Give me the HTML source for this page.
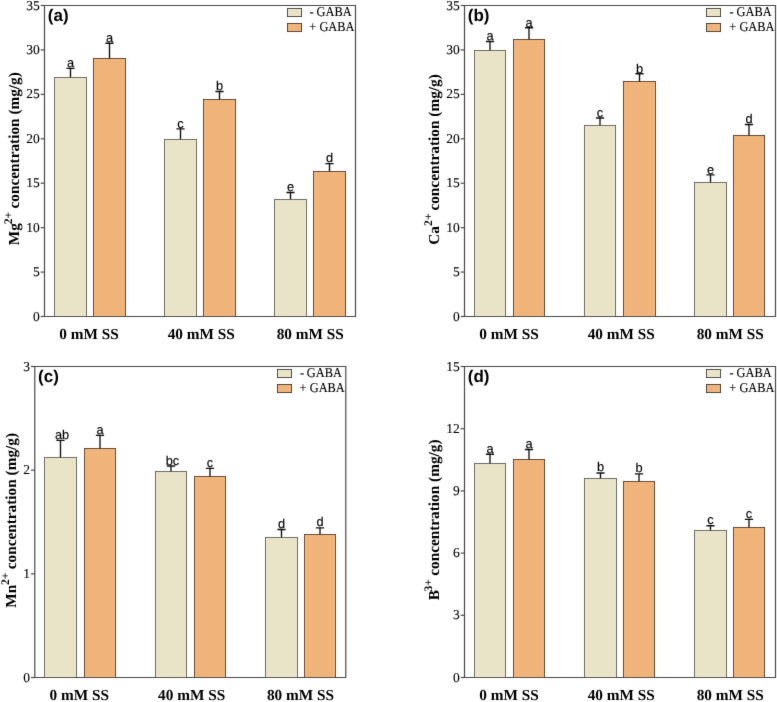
<!DOCTYPE html>
<html><head><meta charset="utf-8"><style>
html,body{margin:0;padding:0;background:#fff;}
svg{display:block;will-change:transform;}
text{text-rendering:geometricPrecision;}
.tk{font-family:"Liberation Serif",serif;font-size:13.5px;fill:#000;stroke:#000;stroke-width:0.1px;}
.xl{font-family:"Liberation Serif",serif;font-size:15.3px;font-weight:bold;fill:#000;}
.yl{font-family:"Liberation Serif",serif;font-size:15.3px;font-weight:bold;fill:#000;}
.pl{font-family:"Liberation Sans",sans-serif;font-size:17px;font-weight:bold;fill:#000;}
.lt{font-family:"Liberation Sans",sans-serif;font-size:12.8px;fill:#000;stroke:#000;stroke-width:0.15px;}
.lg{font-family:"Liberation Serif",serif;font-size:12.4px;fill:#000;stroke:#000;stroke-width:0.1px;}
</style></head><body>
<svg width="777" height="702" viewBox="0 0 777 702">
<defs><filter id="sf" x="0" y="0" width="777" height="702" filterUnits="userSpaceOnUse"><feConvolveMatrix order="3" kernelMatrix="0.0049 0.0700 0.0049 0.0700 0.7004 0.0700 0.0049 0.0700 0.0049" divisor="1" edgeMode="duplicate" preserveAlpha="false"/></filter></defs>
<rect width="777" height="702" fill="#fff"/>
<g filter="url(#sf)">
<g><rect x="54.50" y="77.50" width="32.00" height="239.00" fill="#E9E4C8" stroke="#66665f" stroke-width="1"/>
<path d="M70.50 77.50V68.40M66.40 68.40H74.60" stroke="#111" stroke-width="1.35" fill="none"/>
<text class="lt" x="70.50" y="67.20" text-anchor="middle">a</text>
<rect x="93.50" y="58.50" width="32.00" height="258.00" fill="#F0B47A" stroke="#5a4330" stroke-width="1"/>
<path d="M109.50 58.50V43.20M105.40 43.20H113.60" stroke="#111" stroke-width="1.35" fill="none"/>
<text class="lt" x="109.50" y="42.00" text-anchor="middle">a</text>
<rect x="164.50" y="139.50" width="32.00" height="177.00" fill="#E9E4C8" stroke="#66665f" stroke-width="1"/>
<path d="M180.50 139.50V128.90M176.40 128.90H184.60" stroke="#111" stroke-width="1.35" fill="none"/>
<text class="lt" x="180.50" y="127.70" text-anchor="middle">c</text>
<rect x="203.50" y="99.50" width="32.00" height="217.00" fill="#F0B47A" stroke="#5a4330" stroke-width="1"/>
<path d="M219.50 99.50V91.50M215.40 91.50H223.60" stroke="#111" stroke-width="1.35" fill="none"/>
<text class="lt" x="219.50" y="90.30" text-anchor="middle">b</text>
<rect x="274.50" y="199.50" width="32.00" height="117.00" fill="#E9E4C8" stroke="#66665f" stroke-width="1"/>
<path d="M290.50 199.50V192.50M286.40 192.50H294.60" stroke="#111" stroke-width="1.35" fill="none"/>
<text class="lt" x="290.50" y="191.30" text-anchor="middle">e</text>
<rect x="313.50" y="171.50" width="32.00" height="145.00" fill="#F0B47A" stroke="#5a4330" stroke-width="1"/>
<path d="M329.50 171.50V163.60M325.40 163.60H333.60" stroke="#111" stroke-width="1.35" fill="none"/>
<text class="lt" x="329.50" y="162.40" text-anchor="middle">d</text>
<path d="M44.50 5.50V316.50H355.50V5.50Z" stroke="#4a4a4a" stroke-width="1.2" fill="none"/>
<path d="M40.70 316.50H44.50" stroke="#4a4a4a" stroke-width="1.2"/>
<text class="tk" transform="translate(39.70,320.60) scale(1,1.0)" text-anchor="end">0</text>
<path d="M40.70 272.07H44.50" stroke="#4a4a4a" stroke-width="1.2"/>
<text class="tk" transform="translate(39.70,276.17) scale(1,1.0)" text-anchor="end">5</text>
<path d="M40.70 227.64H44.50" stroke="#4a4a4a" stroke-width="1.2"/>
<text class="tk" transform="translate(39.70,231.74) scale(1,1.0)" text-anchor="end">10</text>
<path d="M40.70 183.21H44.50" stroke="#4a4a4a" stroke-width="1.2"/>
<text class="tk" transform="translate(39.70,187.31) scale(1,1.0)" text-anchor="end">15</text>
<path d="M40.70 138.79H44.50" stroke="#4a4a4a" stroke-width="1.2"/>
<text class="tk" transform="translate(39.70,142.89) scale(1,1.0)" text-anchor="end">20</text>
<path d="M40.70 94.36H44.50" stroke="#4a4a4a" stroke-width="1.2"/>
<text class="tk" transform="translate(39.70,98.46) scale(1,1.0)" text-anchor="end">25</text>
<path d="M40.70 49.93H44.50" stroke="#4a4a4a" stroke-width="1.2"/>
<text class="tk" transform="translate(39.70,54.03) scale(1,1.0)" text-anchor="end">30</text>
<path d="M40.70 5.50H44.50" stroke="#4a4a4a" stroke-width="1.2"/>
<text class="tk" transform="translate(39.70,9.60) scale(1,1.0)" text-anchor="end">35</text>
<text class="xl" x="89.00" y="339.00" text-anchor="middle">0 mM SS</text>
<text class="xl" x="201.30" y="339.00" text-anchor="middle">40 mM SS</text>
<text class="xl" x="310.20" y="339.00" text-anchor="middle">80 mM SS</text>
<text class="pl" x="47.80" y="21.30">(a)</text>
<rect x="287.50" y="8.50" width="14" height="8" fill="#E9E4C8" stroke="#3c3c3c" stroke-width="1"/>
<rect x="287.50" y="23.50" width="14" height="8" fill="#F0B47A" stroke="#3c3c3c" stroke-width="1"/>
<text class="lg" transform="translate(309.60,16.20) scale(1,1.09)">-</text>
<text class="lg" transform="translate(316.50,16.20) scale(1,1.09)">GABA</text>
<text class="lg" transform="translate(309.30,31.40) scale(1,1.09)">+</text>
<text class="lg" transform="translate(319.40,31.40) scale(1,1.09)">GABA</text>
<text class="yl" transform="translate(19.00,0) rotate(-90)" x="-245.30" y="0">Mg</text>
<text class="yl" transform="translate(19.00,0) rotate(-90)" x="-224.30" y="-6.6" style="font-size:11.6px">2+</text>
<text class="yl" transform="translate(19.00,0) rotate(-90)" x="-208.50" y="0">concentration (mg/g)</text></g>
<g><rect x="474.50" y="50.50" width="31.00" height="266.00" fill="#E9E4C8" stroke="#66665f" stroke-width="1"/>
<path d="M490.00 50.50V41.50M485.90 41.50H494.10" stroke="#111" stroke-width="1.35" fill="none"/>
<text class="lt" x="490.00" y="40.30" text-anchor="middle">a</text>
<rect x="513.50" y="39.50" width="31.00" height="277.00" fill="#F0B47A" stroke="#5a4330" stroke-width="1"/>
<path d="M529.00 39.50V27.70M524.90 27.70H533.10" stroke="#111" stroke-width="1.35" fill="none"/>
<text class="lt" x="529.00" y="26.50" text-anchor="middle">a</text>
<rect x="584.50" y="125.50" width="31.00" height="191.00" fill="#E9E4C8" stroke="#66665f" stroke-width="1"/>
<path d="M600.00 125.50V118.00M595.90 118.00H604.10" stroke="#111" stroke-width="1.35" fill="none"/>
<text class="lt" x="600.00" y="116.80" text-anchor="middle">c</text>
<rect x="623.50" y="81.50" width="32.00" height="235.00" fill="#F0B47A" stroke="#5a4330" stroke-width="1"/>
<path d="M639.50 81.50V73.70M635.40 73.70H643.60" stroke="#111" stroke-width="1.35" fill="none"/>
<text class="lt" x="639.50" y="72.50" text-anchor="middle">b</text>
<rect x="694.50" y="182.50" width="32.00" height="134.00" fill="#E9E4C8" stroke="#66665f" stroke-width="1"/>
<path d="M710.50 182.50V174.90M706.40 174.90H714.60" stroke="#111" stroke-width="1.35" fill="none"/>
<text class="lt" x="710.50" y="173.70" text-anchor="middle">e</text>
<rect x="733.50" y="135.50" width="31.00" height="181.00" fill="#F0B47A" stroke="#5a4330" stroke-width="1"/>
<path d="M749.00 135.50V124.50M744.90 124.50H753.10" stroke="#111" stroke-width="1.35" fill="none"/>
<text class="lt" x="749.00" y="123.30" text-anchor="middle">d</text>
<path d="M464.50 5.50V316.50H775.50V5.50Z" stroke="#4a4a4a" stroke-width="1.2" fill="none"/>
<path d="M460.70 316.50H464.50" stroke="#4a4a4a" stroke-width="1.2"/>
<text class="tk" transform="translate(459.70,320.60) scale(1,1.0)" text-anchor="end">0</text>
<path d="M460.70 272.07H464.50" stroke="#4a4a4a" stroke-width="1.2"/>
<text class="tk" transform="translate(459.70,276.17) scale(1,1.0)" text-anchor="end">5</text>
<path d="M460.70 227.64H464.50" stroke="#4a4a4a" stroke-width="1.2"/>
<text class="tk" transform="translate(459.70,231.74) scale(1,1.0)" text-anchor="end">10</text>
<path d="M460.70 183.21H464.50" stroke="#4a4a4a" stroke-width="1.2"/>
<text class="tk" transform="translate(459.70,187.31) scale(1,1.0)" text-anchor="end">15</text>
<path d="M460.70 138.79H464.50" stroke="#4a4a4a" stroke-width="1.2"/>
<text class="tk" transform="translate(459.70,142.89) scale(1,1.0)" text-anchor="end">20</text>
<path d="M460.70 94.36H464.50" stroke="#4a4a4a" stroke-width="1.2"/>
<text class="tk" transform="translate(459.70,98.46) scale(1,1.0)" text-anchor="end">25</text>
<path d="M460.70 49.93H464.50" stroke="#4a4a4a" stroke-width="1.2"/>
<text class="tk" transform="translate(459.70,54.03) scale(1,1.0)" text-anchor="end">30</text>
<path d="M460.70 5.50H464.50" stroke="#4a4a4a" stroke-width="1.2"/>
<text class="tk" transform="translate(459.70,9.60) scale(1,1.0)" text-anchor="end">35</text>
<text class="xl" x="509.00" y="339.00" text-anchor="middle">0 mM SS</text>
<text class="xl" x="621.30" y="339.00" text-anchor="middle">40 mM SS</text>
<text class="xl" x="730.20" y="339.00" text-anchor="middle">80 mM SS</text>
<text class="pl" x="467.80" y="21.30">(b)</text>
<rect x="706.50" y="8.50" width="14" height="8" fill="#E9E4C8" stroke="#3c3c3c" stroke-width="1"/>
<rect x="706.50" y="23.50" width="14" height="8" fill="#F0B47A" stroke="#3c3c3c" stroke-width="1"/>
<text class="lg" transform="translate(729.60,16.20) scale(1,1.09)">-</text>
<text class="lg" transform="translate(736.50,16.20) scale(1,1.09)">GABA</text>
<text class="lg" transform="translate(729.30,31.40) scale(1,1.09)">+</text>
<text class="lg" transform="translate(739.40,31.40) scale(1,1.09)">GABA</text>
<text class="yl" transform="translate(439.00,0) rotate(-90)" x="-244.80" y="0">Ca</text>
<text class="yl" transform="translate(439.00,0) rotate(-90)" x="-225.90" y="-6.6" style="font-size:11.6px">2+</text>
<text class="yl" transform="translate(439.00,0) rotate(-90)" x="-210.60" y="0">concentration (mg/g)</text></g>
<g><rect x="44.50" y="457.50" width="32.00" height="220.00" fill="#E9E4C8" stroke="#66665f" stroke-width="1"/>
<path d="M60.50 457.50V440.30M56.40 440.30H64.60" stroke="#111" stroke-width="1.35" fill="none"/>
<text class="lt" x="62.00" y="439.10" text-anchor="middle">ab</text>
<rect x="84.50" y="448.50" width="31.00" height="229.00" fill="#F0B47A" stroke="#5a4330" stroke-width="1"/>
<path d="M100.00 448.50V435.30M95.90 435.30H104.10" stroke="#111" stroke-width="1.35" fill="none"/>
<text class="lt" x="100.00" y="434.10" text-anchor="middle">a</text>
<rect x="155.50" y="471.50" width="31.00" height="206.00" fill="#E9E4C8" stroke="#66665f" stroke-width="1"/>
<path d="M171.00 471.50V466.00M166.90 466.00H175.10" stroke="#111" stroke-width="1.35" fill="none"/>
<text class="lt" x="172.50" y="464.80" text-anchor="middle">bc</text>
<rect x="194.50" y="476.50" width="31.00" height="201.00" fill="#F0B47A" stroke="#5a4330" stroke-width="1"/>
<path d="M210.00 476.50V468.40M205.90 468.40H214.10" stroke="#111" stroke-width="1.35" fill="none"/>
<text class="lt" x="210.00" y="467.20" text-anchor="middle">c</text>
<rect x="265.50" y="537.50" width="32.00" height="140.00" fill="#E9E4C8" stroke="#66665f" stroke-width="1"/>
<path d="M281.50 537.50V529.50M277.40 529.50H285.60" stroke="#111" stroke-width="1.35" fill="none"/>
<text class="lt" x="281.50" y="528.30" text-anchor="middle">d</text>
<rect x="304.50" y="534.50" width="31.00" height="143.00" fill="#F0B47A" stroke="#5a4330" stroke-width="1"/>
<path d="M320.00 534.50V527.80M315.90 527.80H324.10" stroke="#111" stroke-width="1.35" fill="none"/>
<text class="lt" x="320.00" y="525.60" text-anchor="middle">d</text>
<path d="M34.80 366.50V677.50H345.80V366.50Z" stroke="#4a4a4a" stroke-width="1.2" fill="none"/>
<path d="M31.00 677.50H34.80" stroke="#4a4a4a" stroke-width="1.2"/>
<text class="tk" transform="translate(30.00,681.60) scale(1,1.0)" text-anchor="end">0</text>
<path d="M31.00 573.83H34.80" stroke="#4a4a4a" stroke-width="1.2"/>
<text class="tk" transform="translate(30.00,577.93) scale(1,1.0)" text-anchor="end">1</text>
<path d="M31.00 470.17H34.80" stroke="#4a4a4a" stroke-width="1.2"/>
<text class="tk" transform="translate(30.00,474.27) scale(1,1.0)" text-anchor="end">2</text>
<path d="M31.00 366.50H34.80" stroke="#4a4a4a" stroke-width="1.2"/>
<text class="tk" transform="translate(30.00,370.60) scale(1,1.0)" text-anchor="end">3</text>
<text class="xl" x="79.30" y="700.00" text-anchor="middle">0 mM SS</text>
<text class="xl" x="191.60" y="700.00" text-anchor="middle">40 mM SS</text>
<text class="xl" x="300.50" y="700.00" text-anchor="middle">80 mM SS</text>
<text class="pl" x="38.10" y="382.30">(c)</text>
<rect x="277.50" y="369.50" width="14" height="8" fill="#E9E4C8" stroke="#3c3c3c" stroke-width="1"/>
<rect x="277.50" y="384.50" width="14" height="8" fill="#F0B47A" stroke="#3c3c3c" stroke-width="1"/>
<text class="lg" transform="translate(299.90,377.20) scale(1,1.09)">-</text>
<text class="lg" transform="translate(306.80,377.20) scale(1,1.09)">GABA</text>
<text class="lg" transform="translate(299.60,392.40) scale(1,1.09)">+</text>
<text class="lg" transform="translate(309.70,392.40) scale(1,1.09)">GABA</text>
<text class="yl" transform="translate(16.00,0) rotate(-90)" x="-607.80" y="0">Mn</text>
<text class="yl" transform="translate(16.00,0) rotate(-90)" x="-585.10" y="-6.6" style="font-size:11.6px">2+</text>
<text class="yl" transform="translate(16.00,0) rotate(-90)" x="-569.30" y="0">concentration (mg/g)</text></g>
<g><rect x="474.50" y="463.50" width="31.00" height="214.00" fill="#E9E4C8" stroke="#66665f" stroke-width="1"/>
<path d="M490.00 463.50V454.20M485.90 454.20H494.10" stroke="#111" stroke-width="1.35" fill="none"/>
<text class="lt" x="490.00" y="453.00" text-anchor="middle">a</text>
<rect x="513.50" y="459.50" width="31.00" height="218.00" fill="#F0B47A" stroke="#5a4330" stroke-width="1"/>
<path d="M529.00 459.50V449.50M524.90 449.50H533.10" stroke="#111" stroke-width="1.35" fill="none"/>
<text class="lt" x="529.00" y="448.30" text-anchor="middle">a</text>
<rect x="584.50" y="478.50" width="32.00" height="199.00" fill="#E9E4C8" stroke="#66665f" stroke-width="1"/>
<path d="M600.50 478.50V473.00M596.40 473.00H604.60" stroke="#111" stroke-width="1.35" fill="none"/>
<text class="lt" x="600.50" y="470.80" text-anchor="middle">b</text>
<rect x="623.50" y="481.50" width="31.00" height="196.00" fill="#F0B47A" stroke="#5a4330" stroke-width="1"/>
<path d="M639.00 481.50V473.90M634.90 473.90H643.10" stroke="#111" stroke-width="1.35" fill="none"/>
<text class="lt" x="639.00" y="471.70" text-anchor="middle">b</text>
<rect x="694.50" y="530.50" width="32.00" height="147.00" fill="#E9E4C8" stroke="#66665f" stroke-width="1"/>
<path d="M710.50 530.50V525.70M706.40 525.70H714.60" stroke="#111" stroke-width="1.35" fill="none"/>
<text class="lt" x="710.50" y="523.50" text-anchor="middle">c</text>
<rect x="733.50" y="527.50" width="31.00" height="150.00" fill="#F0B47A" stroke="#5a4330" stroke-width="1"/>
<path d="M749.00 527.50V519.40M744.90 519.40H753.10" stroke="#111" stroke-width="1.35" fill="none"/>
<text class="lt" x="749.00" y="518.20" text-anchor="middle">c</text>
<path d="M464.50 366.50V677.50H775.50V366.50Z" stroke="#4a4a4a" stroke-width="1.2" fill="none"/>
<path d="M460.70 677.50H464.50" stroke="#4a4a4a" stroke-width="1.2"/>
<text class="tk" transform="translate(459.70,681.60) scale(1,1.0)" text-anchor="end">0</text>
<path d="M460.70 615.30H464.50" stroke="#4a4a4a" stroke-width="1.2"/>
<text class="tk" transform="translate(459.70,619.40) scale(1,1.0)" text-anchor="end">3</text>
<path d="M460.70 553.10H464.50" stroke="#4a4a4a" stroke-width="1.2"/>
<text class="tk" transform="translate(459.70,557.20) scale(1,1.0)" text-anchor="end">6</text>
<path d="M460.70 490.90H464.50" stroke="#4a4a4a" stroke-width="1.2"/>
<text class="tk" transform="translate(459.70,495.00) scale(1,1.0)" text-anchor="end">9</text>
<path d="M460.70 428.70H464.50" stroke="#4a4a4a" stroke-width="1.2"/>
<text class="tk" transform="translate(459.70,432.80) scale(1,1.0)" text-anchor="end">12</text>
<path d="M460.70 366.50H464.50" stroke="#4a4a4a" stroke-width="1.2"/>
<text class="tk" transform="translate(459.70,370.60) scale(1,1.0)" text-anchor="end">15</text>
<text class="xl" x="509.00" y="700.00" text-anchor="middle">0 mM SS</text>
<text class="xl" x="621.30" y="700.00" text-anchor="middle">40 mM SS</text>
<text class="xl" x="730.20" y="700.00" text-anchor="middle">80 mM SS</text>
<text class="pl" x="467.80" y="382.30">(d)</text>
<rect x="706.50" y="369.50" width="14" height="8" fill="#E9E4C8" stroke="#3c3c3c" stroke-width="1"/>
<rect x="706.50" y="384.50" width="14" height="8" fill="#F0B47A" stroke="#3c3c3c" stroke-width="1"/>
<text class="lg" transform="translate(729.60,377.20) scale(1,1.09)">-</text>
<text class="lg" transform="translate(736.50,377.20) scale(1,1.09)">GABA</text>
<text class="lg" transform="translate(729.30,392.40) scale(1,1.09)">+</text>
<text class="lg" transform="translate(739.40,392.40) scale(1,1.09)">GABA</text>
<text class="yl" transform="translate(438.50,0) rotate(-90)" x="-600.30" y="0">B</text>
<text class="yl" transform="translate(438.50,0) rotate(-90)" x="-591.50" y="-6.6" style="font-size:11.6px">3+</text>
<text class="yl" transform="translate(438.50,0) rotate(-90)" x="-575.80" y="0">concentration (mg/g)</text></g>
</g></svg>
</body></html>
